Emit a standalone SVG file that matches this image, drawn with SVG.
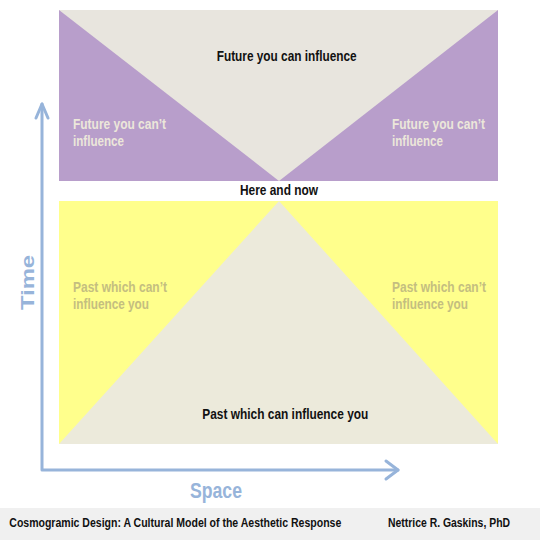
<svg xmlns="http://www.w3.org/2000/svg" width="540" height="540" viewBox="0 0 540 540">
<style>
text{font-family:"Liberation Sans",Arial,sans-serif;font-weight:bold}
.dark{fill:#111111;font-size:15px}
.light{fill:#ECE7DA;font-size:15px}
.olive{fill:#C4BE80;font-size:15px}
.axis{fill:#97B4DA;font-size:22px}
.foot{fill:#111111;font-size:12px}
.ax{fill:none;stroke:#97B4DA;stroke-width:3;stroke-linecap:round;stroke-linejoin:round}
</style>
<rect width="540" height="540" fill="#FFFFFF"/>
<g id="future">
<rect x="59" y="10" width="439" height="171" fill="#B89ECB"/>
<polygon points="59,10 498,10 279,181" fill="#E8E5DE"/>
<text class="dark" x="216.7" y="61" textLength="140" lengthAdjust="spacingAndGlyphs">Future you can influence</text>
<text class="light" x="73" y="128.5" textLength="93" lengthAdjust="spacingAndGlyphs">Future you can’t</text>
<text class="light" x="73" y="146" textLength="51" lengthAdjust="spacingAndGlyphs">influence</text>
<text class="light" x="392" y="128.5" textLength="93" lengthAdjust="spacingAndGlyphs">Future you can’t</text>
<text class="light" x="392" y="146" textLength="51" lengthAdjust="spacingAndGlyphs">influence</text>
</g>
<g id="here-now">
<text class="dark" x="240" y="195" textLength="78" lengthAdjust="spacingAndGlyphs">Here and now</text>
</g>
<g id="past">
<rect x="59" y="201" width="439" height="243" fill="#FFFF8C"/>
<polygon points="279,201 59,444 498,444" fill="#ECEADB"/>
<text class="dark" x="202.3" y="418.5" textLength="166" lengthAdjust="spacingAndGlyphs">Past which can influence you</text>
<text class="olive" x="73" y="291.5" textLength="94" lengthAdjust="spacingAndGlyphs">Past which can’t</text>
<text class="olive" x="73" y="308.5" textLength="76" lengthAdjust="spacingAndGlyphs">influence you</text>
<text class="olive" x="392" y="291.5" textLength="94" lengthAdjust="spacingAndGlyphs">Past which can’t</text>
<text class="olive" x="392" y="308.5" textLength="76" lengthAdjust="spacingAndGlyphs">influence you</text>
</g>
<g id="connectors">
<polyline class="ax" points="42,104 42,470 398,470"/>
<polyline class="ax" points="36,118 42,104 48,118"/>
<polyline class="ax" points="386,461 398,470 386,479"/>
</g>
<g id="axis-labels">
<text class="axis" transform="translate(33.5,310) rotate(-90)" textLength="55" lengthAdjust="spacingAndGlyphs" style="font-size:19px">Time</text>
<text class="axis" x="190" y="497.5" textLength="52" lengthAdjust="spacingAndGlyphs">Space</text>
</g>
<g id="footer">
<rect x="0" y="508" width="540" height="32" fill="#F0F0F0"/>
<text class="foot" x="9.3" y="526.5" textLength="332" lengthAdjust="spacingAndGlyphs">Cosmogramic Design: A Cultural Model of the Aesthetic Response</text>
<text class="foot" x="388" y="526.5" textLength="122" lengthAdjust="spacingAndGlyphs">Nettrice R. Gaskins, PhD</text>
</g>
</svg>
